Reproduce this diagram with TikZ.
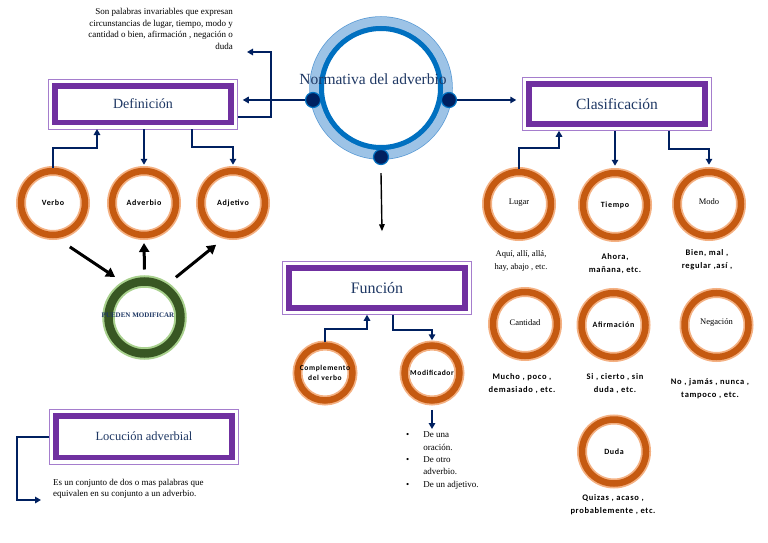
\documentclass[tikz,border=0pt]{standalone}
\usepackage{fontspec}
\setmainfont{Liberation Serif}
\newfontfamily\calfont[LetterSpace=8]{Carlito}
\usetikzlibrary{arrows.meta, positioning, calc}
\definecolor{boxpurple}{RGB}{112, 48, 160}
\definecolor{framepurple}{RGB}{165, 125, 205}
\definecolor{linknavy}{RGB}{0, 32, 96}
\definecolor{titlenavy}{RGB}{31, 56, 100}
\definecolor{ringorange}{RGB}{197, 90, 17}
\definecolor{ringlight}{RGB}{244, 177, 131}
\definecolor{ringgreen}{RGB}{56, 87, 35}
\definecolor{greenlight}{RGB}{169, 209, 142}
\definecolor{hubblue}{RGB}{0, 112, 192}
\definecolor{hublight}{RGB}{157, 195, 230}
\definecolor{hubedge}{RGB}{91, 155, 213}

\begin{document}
\begin{tikzpicture}[x=1pt, y=-1pt,
  catbox/.style={draw=boxpurple, line width=5.5pt, fill=white, minimum width=176pt, minimum height=40pt, inner sep=0pt, outer sep=6.75pt, text=titlenavy},
  boxframe/.style={draw=framepurple, line width=0.9pt},
  orangering/.style={circle, draw=ringorange, line width=6.5pt, minimum size=64pt, inner sep=0pt, align=center, preaction={draw=ringlight, fill=white, line width=10pt}, font=\calfont\bfseries\fontsize{8}{10}\selectfont},
  serifring/.style={orangering, font=\fontsize{8.5}{10}\selectfont},
  smallring/.style={orangering, minimum size=55pt, font=\calfont\bfseries\fontsize{7.5}{10}\selectfont},
  hubdot/.style={circle, fill=linknavy, draw=hubblue, line width=1.2pt, minimum size=15pt, inner sep=0pt},
  link/.style={draw=linknavy, line width=2pt, -{Triangle[length=6pt, width=6.5pt]}},
  fatarrow/.style={draw=black, line width=3pt, -{Triangle[length=9pt, width=10pt]}},
  thinarrow/.style={draw=black, line width=1.4pt, -{Triangle[length=7pt, width=5.5pt]}},
  example/.style={font=\calfont\bfseries\fontsize{8.5}{13}\selectfont, align=center},
  serifex/.style={font=\fontsize{8.5}{13}\selectfont, align=center}
]
  \useasboundingbox (0,0) rectangle (768,543);

  % central circle
  \node[circle, minimum size=133pt, draw=hublight, line width=9pt, preaction={draw=hubedge, line width=10.5pt}] (hub) at (381,88) {};
  \draw[hubblue, line width=5pt] (hub.center) circle[radius=59.5pt];
  \node[font=\fontsize{15.5}{18}\selectfont, text=titlenavy] (hubtext) at (373,79) {Normativa del adverbio};

  % title boxes
  \node[catbox, minimum height=36.5pt, font=\fontsize{14}{16}\selectfont] (defin) at (143,104) {Definición};
  \node[catbox, font=\fontsize{15.5}{18}\selectfont] (clasif) at (617,104) {Clasificación};
  \node[catbox, font=\fontsize{16}{18}\selectfont] (func) at (377,288) {Función};
  \node[catbox, minimum height=41.5pt, font=\fontsize{12.5}{15}\selectfont] (locu) at (144,436.5) {Locución adverbial};
  \foreach \b in {defin, clasif, func, locu}
    \draw[boxframe] (\b.south west) rectangle (\b.north east);

  % definition text
  \node[anchor=north east, align=right, inner sep=0pt, font=\fontsize{9}{11.7}\selectfont] (deftext) at (233,8) {Son palabras invariables que expresan\\circunstancias de lugar, tiempo, modo y\\cantidad o bien, afirmación , negación o\\duda};
  \coordinate (deftip) at (247,52);

  % Definición circles
  \node[orangering] (verbo) at (53,203) {Verbo};
  \node[orangering] (adverbio) at (144,203) {Adverbio};
  \node[orangering] (adjetivo) at (233,203) {Adjetivo};
  \node[circle, draw=ringgreen, line width=8.5pt, minimum size=72pt, inner sep=0pt, preaction={draw=greenlight, fill=white, line width=12.5pt}, label={[font=\bfseries\fontsize{7}{9}\selectfont, text=titlenavy, xshift=-6.5pt, yshift=2.5pt]center:PUEDEN MODIFICAR}] (puede) at (144.5,317.5) {};

  % Clasificación circles
  \node[serifring] (lugar) at (519,204) {\raisebox{5pt}{Lugar}};
  \node[orangering] (tiempo) at (615,205) {Tiempo};
  \node[serifring] (modo) at (709,204) {\raisebox{4pt}{Modo}};
  \node[serifring] (cantidad) at (525,324) {\raisebox{3pt}{Cantidad}};
  \node[orangering] (afirm) at (613.5,325) {Afirmación};
  \node[serifring] (negac) at (716.5,325) {\raisebox{7pt}{Negación}};
  \node[orangering] (duda) at (614,451.5) {Duda};

  % examples
  \node[serifex] (lugarex) at (521,260.5) {Aquí, allí, allá,\\hay, abajo , etc.};
  \node[example] (tiempoex) at (615,264) {Ahora,\\mañana, etc.};
  \node[example] (modoex) at (707,260) {Bien, mal ,\\regular ,así ,};
  \node[example] (cantidadex) at (522,383.5) {Mucho , poco ,\\demasiado , etc.};
  \node[example] (afirmex) at (615,383.5) {Si , cierto , sin\\duda , etc.};
  \node[example] (negacex) at (710,389) {No , jamás , nunca ,\\tampoco , etc.};
  \node[example] (dudaex) at (613,505) {Quizas , acaso ,\\probablemente , etc.};

  % Función circles
  \node[smallring] (comp) at (325,373) {Complemento\\del verbo};
  \node[smallring] (modif) at (432,373) {Modificador};
  \node[anchor=north west, inner sep=0pt, font=\fontsize{9}{12.3}\selectfont] (bullets) at (406,429) {\begin{tabular}{@{}l@{\hspace{14pt}}l@{}}\textbullet & De una\\ & oración.\\ \textbullet & De otro\\ & adverbio.\\ \textbullet & De un adjetivo.\end{tabular}};

  % Locución text
  \node[anchor=west, align=left, inner sep=0pt, font=\fontsize{9}{11}\selectfont] (locutext) at (53,488.5) {Es un conjunto de dos o mas palabras que\\equivalen en su conjunto a un adverbio.};
  \coordinate (loctip) at (41,500);

  % links from the central circle
  \draw[link] ([yshift=-13pt]defin.east) -- ++(33,0) |- (deftip);
  \node[hubdot] (dotl) at ($(hub.center)+(190:69pt)$) {};
  \node[hubdot] (dotr) at ($(hub.center)+(350:69pt)$) {};
  \node[hubdot] (dotb) at ($(hub.center)+(270:69pt)$) {};
  \draw[link, shorten >=5pt] (dotl.west) -- (dotl -| defin.east);
  \draw[link, shorten >=6pt] (dotr.east) -- (dotr -| clasif.west);
  \draw[thinarrow] ([yshift=-8pt]dotb.south) -- ([xshift=5pt, yshift=30pt]func.north);

  % Definición links
  \draw[link] (verbo.north) -- ++(0,-20) -| ([xshift=-46pt]defin.south);
  \draw[link, shorten >=3pt] (defin.south -| adverbio.north) -- (adverbio.north);
  \draw[link, shorten >=3pt] ([xshift=49pt]defin.south) -- ++(0,18) -| (adjetivo.north);
  \draw[fatarrow] ($(verbo.center)+(-69:47pt)$) -- ($(puede.center)+(126:50pt)$);
  \draw[fatarrow] ($(puede.center)+(90:48pt)$) -- ($(adverbio.center)+(-90:40pt)$);
  \draw[fatarrow] ($(puede.center)+(52:51pt)$) -- ($(adjetivo.center)+(-112:45pt)$);

  % Clasificación links
  \draw[link] (lugar.north) -- ++(0,-21) -| ([xshift=-58pt]clasif.south);
  \draw[link, shorten >=4pt] (clasif.south -| tiempo.north) -- (tiempo.north);
  \draw[link, shorten >=4pt] ([xshift=52pt]clasif.south) -- ++(0,18) -| (modo.north);

  % Función links
  \draw[link] (comp.north) -- ++(0,-13) -| ([xshift=-10pt]func.south);
  \draw[link, shorten >=2pt] ([xshift=16pt]func.south) -- ++(0,15) -| (modif.north);
  \draw[link] ([yshift=-6pt]modif.south) -- (modif.south |- bullets.north);

  % Locución link
  \draw[link] (locu.west) -- ++(-32,0) |- (loctip);
\end{tikzpicture}
\end{document}
